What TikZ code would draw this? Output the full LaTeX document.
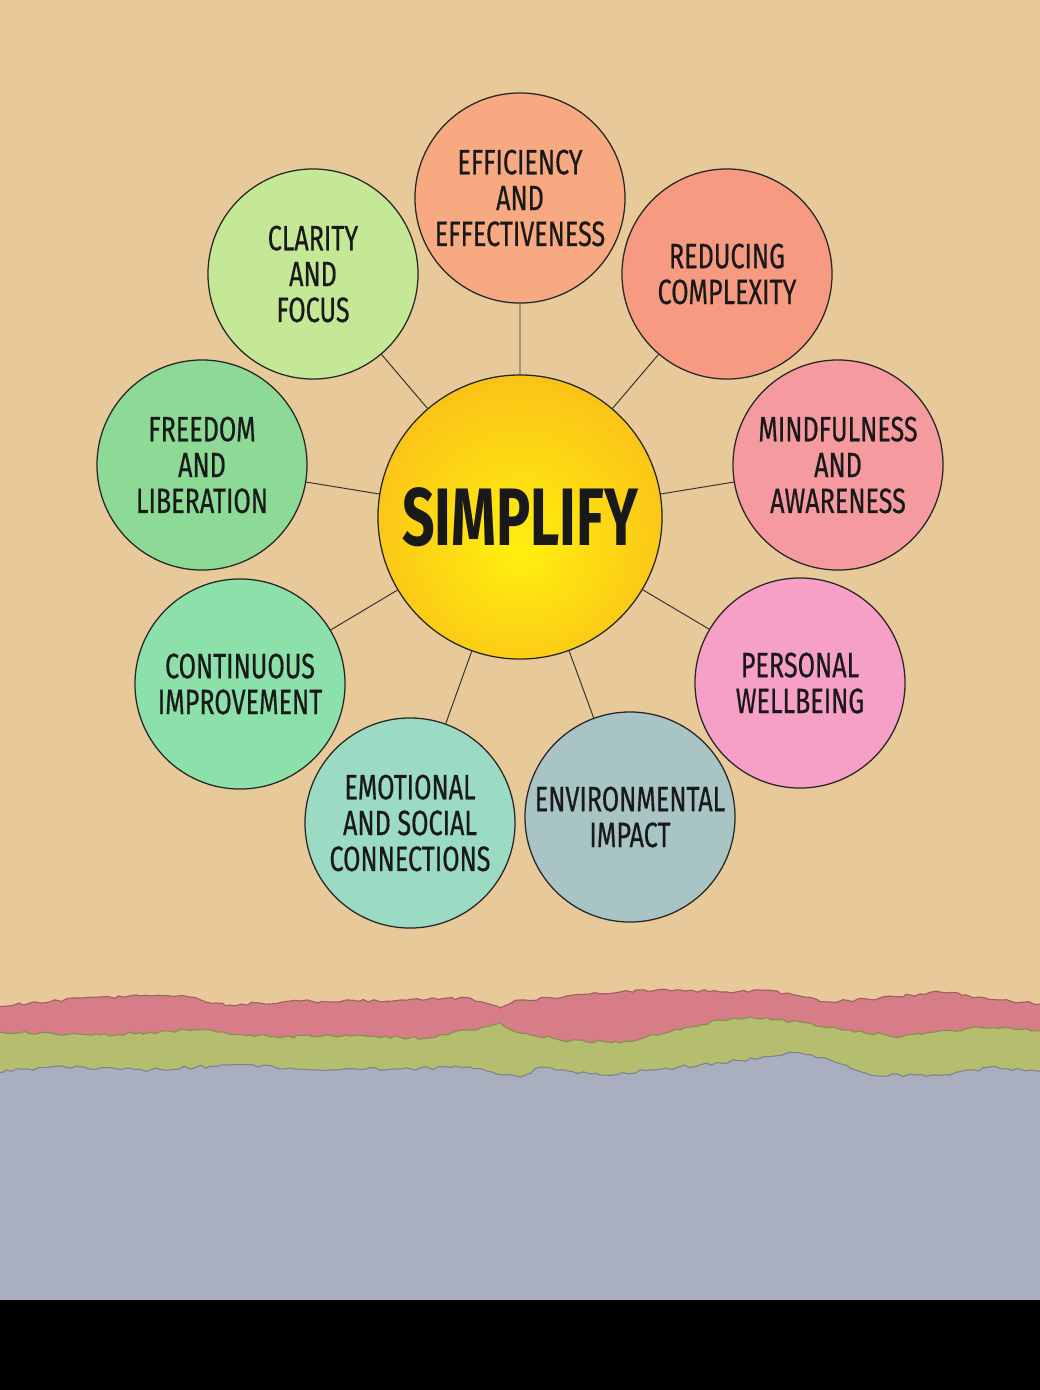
\documentclass[tikz,border=0pt]{standalone}
\usepackage{fontspec}
\newfontfamily\handfont[FakeStretch=0.715,FakeBold=0.5]{Fira Sans}
\newfontfamily\titlefont[FakeStretch=0.7]{Fira Sans}
\usetikzlibrary{decorations.pathmorphing}

\definecolor{paper}{HTML}{E8C999}
\definecolor{sunin}{HTML}{FFF00E}
\definecolor{sunmid}{HTML}{FDD614}
\definecolor{sunout}{HTML}{F59E1E}
\definecolor{effcol}{HTML}{F7AA82}
\definecolor{redcol}{HTML}{F69B82}
\definecolor{mindcol}{HTML}{F59BA0}
\definecolor{perscol}{HTML}{F6A0C8}
\definecolor{envcol}{HTML}{A8C4C4}
\definecolor{emocol}{HTML}{9BDAC3}
\definecolor{contcol}{HTML}{8CE0AA}
\definecolor{freecol}{HTML}{8CDA96}
\definecolor{clarcol}{HTML}{C4E896}
\definecolor{pinkband}{HTML}{D77D87}
\definecolor{greenband}{HTML}{B4BE6E}
\definecolor{grayband}{HTML}{AAAFC0}

\pgfdeclareradialshading{sunshade}{\pgfpoint{0bp}{-6bp}}{%
  color(0bp)=(sunin); color(16bp)=(sunmid); color(50bp)=(sunout)}

\begin{document}
\begin{tikzpicture}[x=0.025cm, y=-0.025cm,
    leaf/.style={circle, draw=black!85, line width=0.9pt, minimum size=5.25cm,
      inner sep=0pt, align=center, text=black!90,
      font=\handfont\fontsize{25}{25.5}\selectfont},
    hub/.style={circle, draw=black!85, line width=0.9pt, minimum size=7.1cm,
      inner sep=0pt, shading=sunshade, text=black!90,
      font=\titlefont\bfseries\fontsize{58}{60}\selectfont},
    spoke/.style={draw=black!80, line width=0.7pt},
    torn/.style={decorate, decoration={random steps, segment length=4pt, amplitude=1.2pt}}
  ]
  \useasboundingbox (0,0) rectangle (1040,1390);
  \fill[paper] (0,0) rectangle (1040,1390);

  % torn paper strips
  \fill[pinkband, torn, draw=pinkband!75!black, line width=0.8pt]
    (-10,1310) -- (-10,1007) -- (40,1003) -- (80,998) -- (140,996) -- (190,997)
    -- (215,1003) -- (230,1005) -- (260,1003) -- (300,1001) -- (330,1002)
    -- (400,1000) -- (470,998) -- (500,1008) -- (520,1000) -- (560,998)
    -- (590,994) -- (620,992) -- (680,990) -- (720,992) -- (760,990)
    -- (800,996) -- (830,1002) -- (880,998) -- (940,992) -- (1000,1000)
    -- (1050,1005) -- (1050,1310) -- cycle;
  \fill[greenband, torn, draw=greenband!75!black, line width=0.8pt]
    (-10,1310) -- (-10,1032) -- (100,1035) -- (200,1030) -- (270,1037)
    -- (330,1035) -- (430,1038) -- (470,1030) -- (500,1023) -- (520,1033)
    -- (560,1040) -- (620,1043) -- (680,1030) -- (720,1020) -- (750,1017)
    -- (800,1022) -- (850,1030) -- (900,1037) -- (970,1028) -- (1050,1030)
    -- (1050,1310) -- cycle;
  \fill[grayband, torn, draw=grayband!75!black, line width=0.8pt]
    (-10,1310) -- (-10,1073) -- (50,1067) -- (100,1068) -- (150,1070)
    -- (230,1065) -- (330,1070) -- (400,1069) -- (470,1067) -- (520,1077)
    -- (540,1067) -- (600,1075) -- (650,1070) -- (700,1065) -- (760,1058)
    -- (790,1052) -- (830,1060) -- (870,1075) -- (950,1075) -- (990,1067)
    -- (1050,1072) -- (1050,1310) -- cycle;
  \fill[black] (0,1300) rectangle (1040,1390);

  % mind map
  \node[hub] (simplify) at (520,517) {SIMPLIFY};

  \node[leaf, fill=effcol]  (eff)  at (520,198) {EFFICIENCY\\AND\\EFFECTIVENESS};
  \node[leaf, fill=redcol]  (red)  at (727,274) {REDUCING\\COMPLEXITY};
  \node[leaf, fill=mindcol] (mind) at (838,465) {MINDFULNESS\\AND\\AWARENESS};
  \node[leaf, fill=perscol] (pers) at (800,683) {PERSONAL\\WELLBEING};
  \node[leaf, fill=envcol]  (env)  at (630,817) {ENVIRONMENTAL\\IMPACT};
  \node[leaf, fill=emocol]  (emo)  at (410,823) {EMOTIONAL\\AND SOCIAL\\CONNECTIONS};
  \node[leaf, fill=contcol] (cont) at (240,684) {CONTINUOUS\\IMPROVEMENT};
  \node[leaf, fill=freecol] (free) at (202,465) {FREEDOM\\AND\\LIBERATION};
  \node[leaf, fill=clarcol] (clar) at (313,274) {CLARITY\\AND\\FOCUS};

  \draw[spoke] (simplify) -- (eff)  (simplify) -- (red)  (simplify) -- (mind)
               (simplify) -- (pers) (simplify) -- (env)  (simplify) -- (emo)
               (simplify) -- (cont) (simplify) -- (free) (simplify) -- (clar);
\end{tikzpicture}
\end{document}
